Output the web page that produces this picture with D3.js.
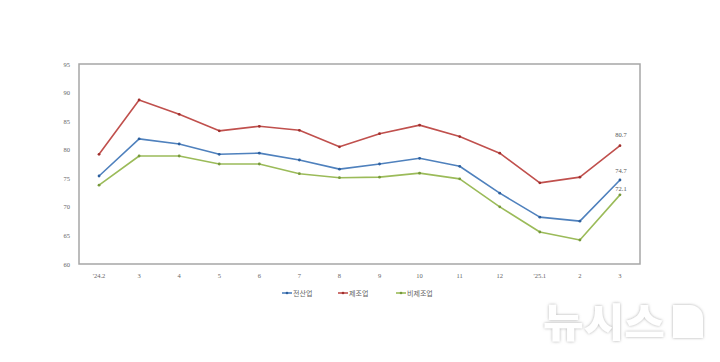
<!DOCTYPE html>
<html>
<head>
<meta charset="utf-8">
<script src="https://cdn.jsdelivr.net/npm/d3@7"></script>
<style>
  body { margin: 0; background: #fff; }
  svg { display: block; }
</style>
</head>
<body>
<div id="chart"></div>
<script>
// months (x categories)
var months = ["'24.2", "3", "4", "5", "6", "7", "8", "9", "10", "11", "12", "'25.1", "2", "3"];
var yTicks = [60, 65, 70, 75, 80, 85, 90, 95];

// series values
var allInd = [75.4, 81.9, 81.0, 79.2, 79.4, 78.2, 76.6, 77.5, 78.5, 77.1, 72.4, 68.2, 67.5, 74.7];
var manuf = [79.2, 88.7, 86.2, 83.3, 84.1, 83.4, 80.5, 82.8, 84.3, 82.3, 79.4, 74.2, 75.2, 80.7];
var nonManuf = [73.8, 78.9, 78.9, 77.5, 77.5, 75.8, 75.1, 75.2, 75.9, 74.9, 70.0, 65.6, 64.2, 72.1];

var seriesNames = ["전산업", "제조업", "비제조업"];
var seriesColors = ["#4f81bd", "#c0504d", "#9bbb59"];
var markColors = ["#2c5f9e", "#a0302d", "#76993a"];

function init() {
  var width = 720, height = 362;
  var left = 79, right = 640, top = 64, bottom = 264;

  var svg = d3.select("#chart").append("svg")
      .attr("width", width)
      .attr("height", height);

  var xScale = d3.scaleBand().domain(d3.range(months.length)).range([left, right]);
  var yScale = d3.scaleLinear().domain([60, 95]).range([bottom, top]);
  var cx = i => xScale(i) + xScale.bandwidth() / 2;

  // plot frame
  svg.append("rect")
      .attr("x", left).attr("y", top)
      .attr("width", right - left).attr("height", bottom - top)
      .attr("fill", "none")
      .attr("stroke", "#a6a6a6")
      .attr("stroke-width", 1.5);

  // y axis labels
  var yAxis = d3.axisLeft(yScale).tickValues(yTicks).tickSize(0).tickPadding(9);
  svg.append("g")
      .attr("transform", `translate(${left},0)`)
      .call(yAxis)
      .call(g => g.select(".domain").remove())
      .call(g => g.selectAll("text")
          .attr("fill", "#666")
          .style("font-family", "Liberation Serif")
          .style("font-size", "6.5px"));

  // x axis labels
  var xAxis = d3.axisBottom(xScale).tickFormat(i => months[i]).tickSize(0).tickPadding(9);
  svg.append("g")
      .attr("transform", `translate(0,${bottom})`)
      .call(xAxis)
      .call(g => g.select(".domain").remove())
      .call(g => g.selectAll("text")
          .attr("fill", "#666")
          .style("font-family", "Liberation Serif")
          .style("font-size", "6.5px"));

  var line = d3.line()
      .x((d, i) => cx(i))
      .y(d => yScale(d));

  var all = [allInd, manuf, nonManuf];
  all.forEach(function(vals, k) {
    svg.append("path")
        .attr("d", line(vals))
        .attr("fill", "none")
        .attr("stroke", seriesColors[k])
        .attr("stroke-width", 1.6)
        .attr("stroke-linejoin", "round");
    svg.append("g").selectAll("circle")
        .data(vals)
        .join("circle")
        .attr("cx", (d, i) => cx(i))
        .attr("cy", d => yScale(d))
        .attr("r", 1.4)
        .attr("fill", markColors[k]);
  });

  // end labels
  var last = months.length - 1;
  var endLabels = [[manuf, -9], [allInd, -7], [nonManuf, -4]];
  endLabels.forEach(function(e) {
    svg.append("text")
        .attr("x", cx(last) + 1)
        .attr("y", yScale(e[0][last]) + e[1])
        .attr("text-anchor", "middle")
        .attr("fill", "#555")
        .style("font-family", "Liberation Serif")
        .style("font-size", "6.5px")
        .text(e[0][last].toFixed(1));
  });

  // legend
  var legX = [282, 338, 396];
  seriesNames.forEach(function(name, k) {
    var g = svg.append("g").attr("transform", `translate(${legX[k]},293)`);
    g.append("line")
        .attr("x1", 0).attr("x2", 10)
        .attr("stroke", seriesColors[k])
        .attr("stroke-width", 1.6);
    g.append("circle").attr("cx", 5).attr("r", 1.3).attr("fill", markColors[k]);
    g.append("text")
        .attr("x", 11).attr("y", 2.5)
        .attr("fill", "#666")
        .style("font-family", "Noto Sans CJK KR")
        .style("font-size", "7px")
        .text(name);
  });

  // watermark
  var defs = svg.append("defs");
  var f = defs.append("filter").attr("id", "shadow")
      .attr("x", "-20%").attr("y", "-20%").attr("width", "140%").attr("height", "140%");
  f.append("feDropShadow")
      .attr("dx", 0).attr("dy", 0).attr("stdDeviation", 1.8)
      .attr("flood-color", "#888").attr("flood-opacity", 0.7);

  var wm = svg.append("g").attr("filter", "url(#shadow)");
  wm.append("text")
      .attr("x", 543).attr("y", 337)
      .attr("fill", "#fff")
      .attr("textLength", 122)
      .attr("lengthAdjust", "spacingAndGlyphs")
      .style("font-family", "Noto Sans CJK KR")
      .style("font-weight", "900")
      .style("font-size", "40px")
      .text("뉴시스");
  wm.append("path")
      .attr("d", "M673,305 H690 A13,13 0 0 1 703,318 V338 H673 Z")
      .attr("fill", "#fff");
}

window.onload = init;
</script>
</body>
</html>
